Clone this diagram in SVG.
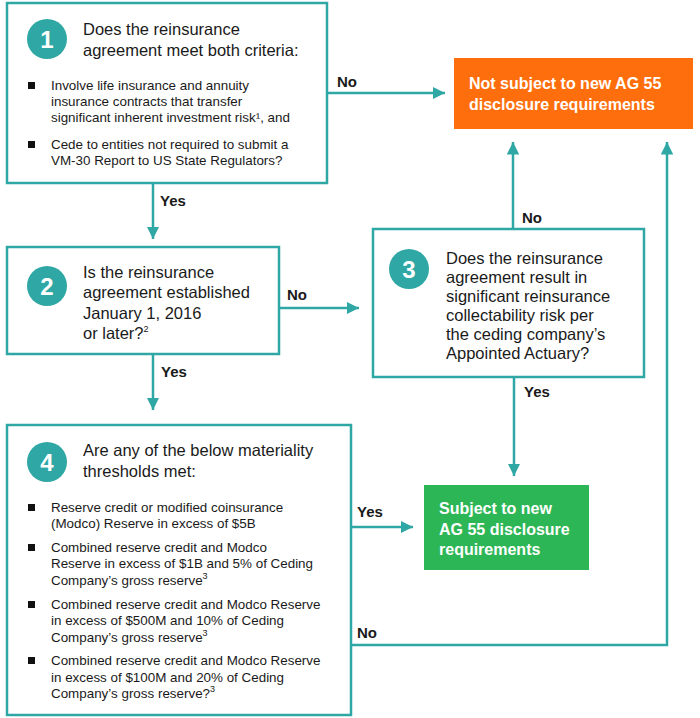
<svg xmlns="http://www.w3.org/2000/svg" width="700" height="718" viewBox="0 0 700 718">
<defs>
<style>
.box{fill:#fff;stroke:#2fa7a4;stroke-width:2.5}
.num{fill:#2fa7a4}
.numt{font-family:"Liberation Sans",Arial,sans-serif;font-weight:bold;font-size:24px;fill:#fff;text-anchor:middle}
.q{font-family:"Liberation Sans",Arial,sans-serif;font-size:16.5px;fill:#1a1a1a}
.b{font-family:"Liberation Sans",Arial,sans-serif;font-size:13.4px;fill:#1a1a1a}
.lbl{font-family:"Liberation Sans",Arial,sans-serif;font-size:15px;font-weight:bold;fill:#1a1a1a}
.wt{font-family:"Liberation Sans",Arial,sans-serif;font-size:16px;font-weight:bold;fill:#fff}
.sq{fill:#111}
.ln{fill:none;stroke:#2fa7a4;stroke-width:2.5}
.sup{font-size:9px}
</style>
<marker id="ah" viewBox="0 0 10 10" refX="10" refY="5" markerWidth="5" markerHeight="5" markerUnits="strokeWidth" orient="auto">
<path d="M0,0 L10,5 L0,10 z" fill="#2fa7a4"/>
</marker>
</defs>

<g id="connectors">
<path class="ln" d="M327,93 H445" marker-end="url(#ah)"/>
<path class="ln" d="M153,183 V239" marker-end="url(#ah)"/>
<path class="ln" d="M279,308 H359" marker-end="url(#ah)"/>
<path class="ln" d="M153,354 V410" marker-end="url(#ah)"/>
<path class="ln" d="M513,229 V142" marker-end="url(#ah)"/>
<path class="ln" d="M514,377 V476" marker-end="url(#ah)"/>
<path class="ln" d="M351,527 H413" marker-end="url(#ah)"/>
<path class="ln" d="M351,645 H667 V142" marker-end="url(#ah)"/>
<text class="lbl" x="337" y="87">No</text>
<text class="lbl" x="160" y="206">Yes</text>
<text class="lbl" x="287" y="300">No</text>
<text class="lbl" x="161" y="377">Yes</text>
<text class="lbl" x="522" y="223">No</text>
<text class="lbl" x="524" y="397">Yes</text>
<text class="lbl" x="357" y="517">Yes</text>
<text class="lbl" x="357" y="638">No</text>
</g>

<g id="node1">
<rect class="box" x="7" y="3" width="320" height="180"/>
<circle class="num" cx="47" cy="39" r="20"/>
<text class="numt" x="47" y="47.5">1</text>
<text class="q" x="83" y="35">Does the reinsurance</text>
<text class="q" x="83" y="56">agreement meet both criteria:</text>
<rect class="sq" x="28" y="82" width="7" height="7"/>
<text class="b" x="51" y="90">Involve life insurance and annuity</text>
<text class="b" x="51" y="106">insurance contracts that transfer</text>
<text class="b" x="51" y="122">significant inherent investment risk¹, and</text>
<rect class="sq" x="28" y="141" width="7" height="7"/>
<text class="b" x="51" y="149">Cede to entities not required to submit a</text>
<text class="b" x="51" y="165">VM-30 Report to US State Regulators?</text>
</g>

<g id="node2">
<rect class="box" x="7" y="247" width="272" height="107"/>
<circle class="num" cx="47" cy="286" r="20"/>
<text class="numt" x="47" y="294.5">2</text>
<text class="q" x="83" y="278">Is the reinsurance</text>
<text class="q" x="83" y="298">agreement established</text>
<text class="q" x="83" y="319">January 1, 2016</text>
<text class="q" x="83" y="339">or later?<tspan class="sup" dy="-7">2</tspan></text>
</g>

<g id="node3">
<rect class="box" x="373" y="229" width="271" height="148"/>
<circle class="num" cx="409" cy="269" r="20"/>
<text class="numt" x="409" y="277.5">3</text>
<text class="q" x="446" y="264">Does the reinsurance</text>
<text class="q" x="446" y="283">agreement result in</text>
<text class="q" x="446" y="302">significant reinsurance</text>
<text class="q" x="446" y="321">collectability risk per</text>
<text class="q" x="446" y="340">the ceding company’s</text>
<text class="q" x="446" y="359">Appointed Actuary?</text>
</g>

<g id="node4">
<rect class="box" x="7" y="425" width="344" height="290"/>
<circle class="num" cx="47" cy="462" r="20"/>
<text class="numt" x="47" y="470.5">4</text>
<text class="q" x="83" y="456">Are any of the below materiality</text>
<text class="q" x="83" y="477">thresholds met:</text>
<rect class="sq" x="28" y="504" width="7" height="7"/>
<text class="b" x="51" y="512">Reserve credit or modified coinsurance</text>
<text class="b" x="51" y="528">(Modco) Reserve in excess of $5B</text>
<rect class="sq" x="28" y="544" width="7" height="7"/>
<text class="b" x="51" y="552">Combined reserve credit and Modco</text>
<text class="b" x="51" y="568">Reserve in excess of $1B and 5% of Ceding</text>
<text class="b" x="51" y="585">Company’s gross reserve<tspan class="sup" dy="-6">3</tspan></text>
<rect class="sq" x="28" y="601" width="7" height="7"/>
<text class="b" x="51" y="609">Combined reserve credit and Modco Reserve</text>
<text class="b" x="51" y="625">in excess of $500M and 10% of Ceding</text>
<text class="b" x="51" y="642">Company’s gross reserve<tspan class="sup" dy="-6">3</tspan></text>
<rect class="sq" x="28" y="657" width="7" height="7"/>
<text class="b" x="51" y="665">Combined reserve credit and Modco Reserve</text>
<text class="b" x="51" y="682">in excess of $100M and 20% of Ceding</text>
<text class="b" x="51" y="698">Company’s gross reserve?<tspan class="sup" dy="-6">3</tspan></text>
</g>

<g id="not-subject">
<rect x="454" y="58" width="239" height="71" fill="#ff6e0c"/>
<text class="wt" x="469" y="89">Not subject to new AG 55</text>
<text class="wt" x="469" y="110">disclosure requirements</text>
</g>

<g id="subject">
<rect x="424" y="485" width="165" height="85" fill="#2db656"/>
<text class="wt" x="439" y="514">Subject to new</text>
<text class="wt" x="439" y="535">AG 55 disclosure</text>
<text class="wt" x="439" y="555">requirements</text>
</g>
</svg>
